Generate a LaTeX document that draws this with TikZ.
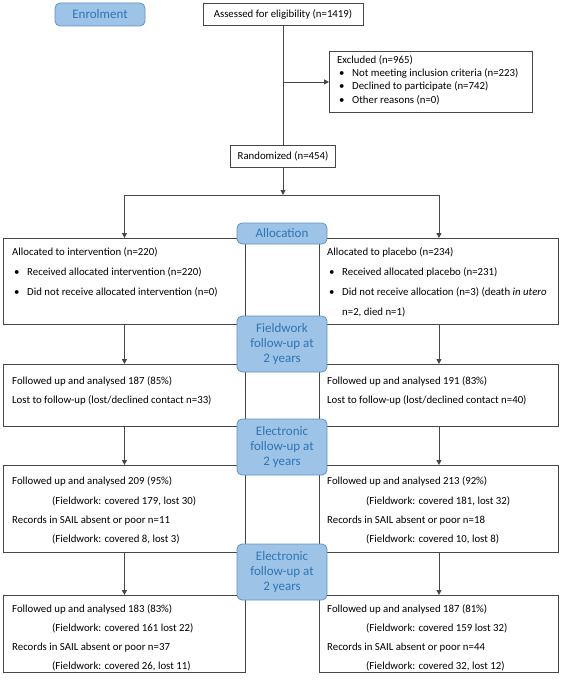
\documentclass[tikz,border=0pt]{standalone}
\usepackage{fontspec}
\setmainfont{Carlito}
\usetikzlibrary{arrows.meta}
\definecolor{lblfill}{RGB}{157,195,230}
\definecolor{lbldraw}{RGB}{96,146,200}
\definecolor{lbltext}{RGB}{46,117,182}
\definecolor{boxline}{RGB}{70,70,70}
\begin{document}
\begin{tikzpicture}[x=1pt,y=-1pt,
  box/.style={draw=boxline, line width=0.9pt, anchor=north west, inner sep=0pt},
  cbox/.style={draw=boxline, line width=0.9pt, inner sep=0pt, font=\fontsize{10.8}{13}\selectfont},
  lbl/.style={draw=lbldraw, fill=lblfill, rounded corners=5pt, line width=0.8pt, text=lbltext,
    font=\fontsize{13}{15.3}\selectfont, align=center, inner sep=0pt, minimum width=90pt},
  txt/.style={anchor=west, inner sep=0pt, font=\fontsize{10.8}{13}\selectfont, text height=7.5pt, text depth=2.5pt},
  arr/.style={draw=boxline, line width=0.9pt, -{Triangle[length=5pt,width=5pt]}},
  ln/.style={draw=boxline, line width=0.9pt}]
\useasboundingbox (0,0) rectangle (563,685);
% top boxes
\node[cbox, minimum width=160pt, minimum height=22pt] (assess) at (283,14) {Assessed for eligibility (n=1419)};
\node[cbox, minimum width=105pt, minimum height=22pt] (rand) at (283,156) {Randomized (n=454)};
\node[box, minimum width=203pt, minimum height=61pt] (ex) at (329,51) {};
\node[txt] (ex0) at (337,61) {Excluded (n=965)};
\node[txt] (exb1) at (339,74) {•};
\node[txt] (ex1) at (352,74) {Not meeting inclusion criteria (n=223)};
\node[txt] (exb2) at (339,87) {•};
\node[txt] (ex2) at (352,87) {Declined to participate (n=742)};
\node[txt] (exb3) at (339,101) {•};
\node[txt] (ex3) at (352,101) {Other reasons (n=0)};
% row boxes
\node[box, minimum width=242pt, minimum height=86pt] (a1) at (3,238) {};
\node[box, minimum width=239pt, minimum height=86pt] (b1) at (319,238) {};
\node[box, minimum width=242pt, minimum height=62pt] (a2) at (3,364) {};
\node[box, minimum width=239pt, minimum height=62pt] (b2) at (319,364) {};
\node[box, minimum width=242pt, minimum height=87pt] (a3) at (3,465) {};
\node[box, minimum width=239pt, minimum height=87pt] (b3) at (319,465) {};
\node[box, minimum width=242pt, minimum height=77pt] (a4) at (3,595) {};
\node[box, minimum width=239pt, minimum height=77pt] (b4) at (319,595) {};
% connectors
\draw[ln] (assess.south) -- (rand.north);
\coordinate (jx) at (assess.south |- ex.west);
\draw[arr] (jx) -- (ex.west);
\coordinate (jc) at (283,195);
\coordinate (jl) at (a1.north |- jc);
\coordinate (jr) at (b1.north |- jc);
\draw[arr] (rand.south) -- (jc);
\draw[ln] (jl) -- (jr);
\draw[arr] (jl) -- (a1.north);
\draw[arr] (jr) -- (b1.north);
\draw[arr] (a1.south) -- (a2.north);
\draw[arr] (b1.south) -- (b2.north);
\draw[arr] (a2.south) -- (a3.north);
\draw[arr] (b2.south) -- (b3.north);
\draw[arr] (a3.south) -- (a4.north);
\draw[arr] (b3.south) -- (b4.north);
% labels
\node[lbl, minimum height=23pt] (enrol) at (100,14.5) {Enrolment};
\node[lbl, minimum height=21pt] (alloc) at (282,233.5) {Allocation};
\node[lbl, minimum height=56pt] (field) at (282,344) {Fieldwork\\follow-up at\\2 years};
\node[lbl, minimum height=56pt] (elec1) at (282,447) {Electronic\\follow-up at\\2 years};
\node[lbl, minimum height=56pt] (elec2) at (282,572) {Electronic\\follow-up at\\2 years};
% row 1 text
\node[txt] (a1t1) at (12,253) {Allocated to intervention (n=220)};
\node[txt] (a1b2) at (14,273) {•};
\node[txt] (a1t2) at (27,273) {Received allocated intervention (n=220)};
\node[txt] (a1b3) at (14,293) {•};
\node[txt] (a1t3) at (27,293) {Did not receive allocated intervention (n=0)};
\node[txt] (b1t1) at (327,253) {Allocated to placebo (n=234)};
\node[txt] (b1b2) at (329,273) {•};
\node[txt] (b1t2) at (342,273) {Received allocated placebo (n=231)};
\node[txt] (b1b3) at (329,293) {•};
\node[txt] (b1t3) at (342,293) {Did not receive allocation (n=3) (death \textit{in utero}};
\node[txt] (b1t4) at (342,313) {n=2, died n=1)};
% row 2 text
\node[txt] (a2t1) at (12,382) {Followed up and analysed 187 (85\%)};
\node[txt] (a2t2) at (12,401) {Lost to follow-up (lost/declined contact n=33)};
\node[txt] (b2t1) at (327,382) {Followed up and analysed 191 (83\%)};
\node[txt] (b2t2) at (327,401) {Lost to follow-up (lost/declined contact n=40)};
% row 3 text
\node[txt] (a3t1) at (12,482) {Followed up and analysed 209 (95\%)};
\node[txt] (a3t2) at (52,502) {(Fieldwork: covered 179, lost 30)};
\node[txt] (a3t3) at (12,521) {Records in SAIL absent or poor n=11};
\node[txt] (a3t4) at (52,540) {(Fieldwork: covered 8, lost 3)};
\node[txt] (b3t1) at (327,482) {Followed up and analysed 213 (92\%)};
\node[txt] (b3t2) at (366,502) {(Fieldwork: covered 181, lost 32)};
\node[txt] (b3t3) at (327,521) {Records in SAIL absent or poor n=18};
\node[txt] (b3t4) at (366,540) {(Fieldwork: covered 10, lost 8)};
% row 4 text
\node[txt] (a4t1) at (12,610) {Followed up and analysed 183 (83\%)};
\node[txt] (a4t2) at (52,629) {(Fieldwork: covered 161 lost 22)};
\node[txt] (a4t3) at (12,648) {Records in SAIL absent or poor n=37};
\node[txt] (a4t4) at (52,667) {(Fieldwork: covered 26, lost 11)};
\node[txt] (b4t1) at (327,610) {Followed up and analysed 187 (81\%)};
\node[txt] (b4t2) at (366,629) {(Fieldwork: covered 159 lost 32)};
\node[txt] (b4t3) at (327,648) {Records in SAIL absent or poor n=44};
\node[txt] (b4t4) at (366,667) {(Fieldwork: covered 32, lost 12)};
\end{tikzpicture}
\end{document}
